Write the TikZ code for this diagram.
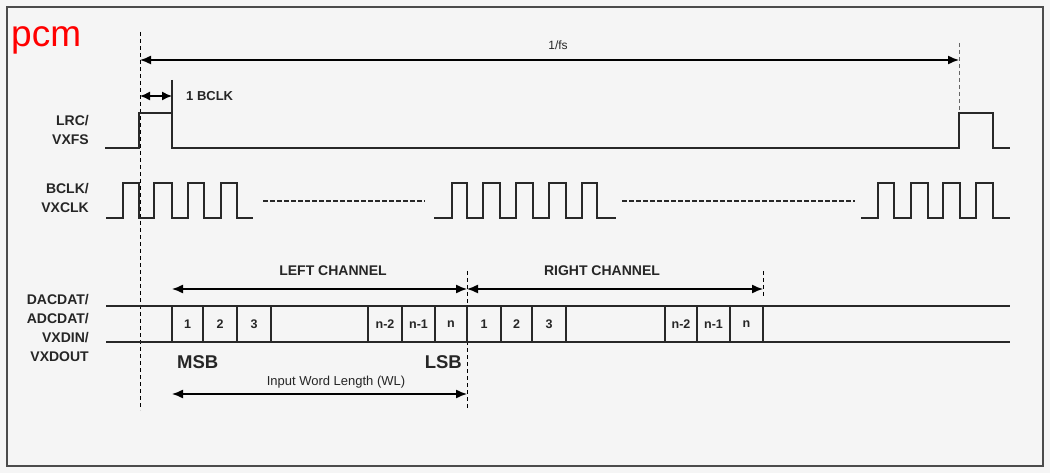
\documentclass[tikz,border=0pt]{standalone}
\usepackage{fontspec}
\setmainfont{Liberation Sans}
\usetikzlibrary{arrows.meta}
\definecolor{bgc}{RGB}{245,245,245}
\definecolor{sig}{RGB}{40,40,40}
\tikzset{
  wave/.style={draw=sig, line width=1.6pt},
  guide/.style={draw=black, line width=0.9pt, dash pattern=on 4pt off 3pt},
  dimarrow/.style={draw=black, line width=1.4pt, {Latex[length=11pt,width=9pt]}-{Latex[length=11pt,width=9pt]}},
  siglabel/.style={font=\fontsize{14}{19}\selectfont\bfseries, align=right, anchor=east, inner sep=0pt, text=black!85},
  cell/.style={font=\fontsize{12.5}{13}\selectfont\bfseries, inner sep=0pt, text=black!85},
  chlabel/.style={font=\fontsize{14}{16}\selectfont\bfseries, inner sep=0pt, text=black!85},
}
\begin{document}
\begin{tikzpicture}[x=1pt, y=-1pt]
\useasboundingbox (0,0) rectangle (1050,473);
\fill[bgc] (0,0) rectangle (1050,473);
\draw[line width=1.8pt, draw=black!70] (7,7) rectangle (1043,466);

\node[text=red, font=\fontsize{37}{38}\selectfont, anchor=base west, inner sep=0pt] (title) at (11,47) {pcm};

% coordinates
\coordinate (t0top) at (140,32);
\coordinate (t0bot) at (140,410);
\coordinate (t1top) at (959,43);
\coordinate (t1bot) at (959,113);
\coordinate (fsL) at (140,60);
\coordinate (fsR) at (959,60);
\coordinate (bcA) at (140,96);
\coordinate (bcB) at (172,96);
\coordinate (tickTop) at (172,80);
\coordinate (tickBot) at (172,113);
\coordinate (lsbTop) at (467,271);
\coordinate (lsbBot) at (467,410);
\coordinate (rEndTop) at (763,271);
\coordinate (rEndBot) at (763,296);
\coordinate (lcL) at (172,289);
\coordinate (lcR) at (467,289);
\coordinate (rcR) at (763,289);
\coordinate (wlL) at (172,394);
\coordinate (wlR) at (467,394);

% guides
\draw[guide] (t0top) -- (t0bot);
\draw[guide, draw=black!60] (t1top) -- (t1bot);
\draw[guide] (lsbTop) -- (lsbBot);
\draw[guide] (rEndTop) -- (rEndBot);

% 1/fs
\draw[dimarrow] (fsL) -- (fsR);
\node[font=\fontsize{12}{14}\selectfont, inner sep=0pt, text=black!85] (fslabel) at (558,45) {1/fs};

% 1 BCLK
\draw[line width=1.4pt, draw=sig] (tickTop) -- (tickBot);
\draw[line width=1.4pt, {Latex[length=10pt,width=9pt]}-{Latex[length=10pt,width=9pt]}] (bcA) -- (bcB);
\node[font=\fontsize{13}{14}\selectfont\bfseries, anchor=west, inner sep=0pt, text=black!85] (bclklabel) at (186,96) {1 BCLK};

% LRC
\node[siglabel] (lrc) at (89,130) {LRC/\\VXFS};
\draw[wave] (105,148) -- (139,148) -- (139,113) -- (172,113) -- (172,148) -- (959,148) -- (959,113) -- (993,113) -- (993,148) -- (1010,148);

% BCLK
\node[siglabel] (bclk) at (89,198) {BCLK/\\VXCLK};
\draw[wave] (106,218) -- (123,218) -- (123,183) -- (139,183) -- (139,218) -- (154,218) -- (154,183) -- (172,183) -- (172,218) -- (188,218) -- (188,183) -- (204,183) -- (204,218) -- (221,218) -- (221,183) -- (237,183) -- (237,218) -- (253,218);
\draw[wave] (434,218) -- (452,218) -- (452,183) -- (467,183) -- (467,218) -- (483,218) -- (483,183) -- (500,183) -- (500,218) -- (516,218) -- (516,183) -- (533,183) -- (533,218) -- (549,218) -- (549,183) -- (566,183) -- (566,218) -- (582,218) -- (582,183) -- (597,183) -- (597,218) -- (616,218);
\draw[wave] (861,218) -- (878,218) -- (878,183) -- (894,183) -- (894,218) -- (911,218) -- (911,183) -- (928,183) -- (928,218) -- (943,218) -- (943,183) -- (960,183) -- (960,218) -- (976,218) -- (976,183) -- (993,183) -- (993,218) -- (1010,218);
\draw[draw=sig, line width=1.3pt, dash pattern=on 5pt off 2pt] (263,201) -- (425,201);
\draw[draw=sig, line width=1.3pt, dash pattern=on 5pt off 2pt] (622,201) -- (855,201);

% DATA
\node[siglabel] (dat) at (89,328) {DACDAT/\\ADCDAT/\\VXDIN/\\VXDOUT};
\draw[wave] (106,306) -- (1010,306);
\draw[wave] (106,342) -- (1010,342);
\foreach \x in {172,203,237,271,368,402,435,467,501,532,566,665,697,730,763}
  \draw[draw=sig, line width=1.4pt] (\x,306) -- (\x,342);
\foreach \x/\t in {187.5/1,220/2,254/3,385/n-2,418.5/n-1,451/n,484/1,516.5/2,549/3,681/n-2,713.5/n-1,746.5/n}
  \node[cell] at (\x,324) {\t};

% channels
\node[chlabel] (lch) at (333,271) {LEFT CHANNEL};
\node[chlabel] (rch) at (602,271) {RIGHT CHANNEL};
\draw[dimarrow] (lcL) -- (lcR);
\draw[dimarrow] (lcR) -- (rcR);

\node[font=\fontsize{18.5}{20}\selectfont\bfseries, inner sep=0pt, anchor=base west, text=black!85] (msb) at (177,368) {MSB};
\node[font=\fontsize{18.5}{20}\selectfont\bfseries, inner sep=0pt, anchor=base east, text=black!85] (lsb) at (462,368) {LSB};
\node[font=\fontsize{13}{14}\selectfont, inner sep=0pt, text=black!85] (wl) at (336,382) {Input Word Length (WL)};
\draw[dimarrow] (wlL) -- (wlR);
\end{tikzpicture}
\end{document}
